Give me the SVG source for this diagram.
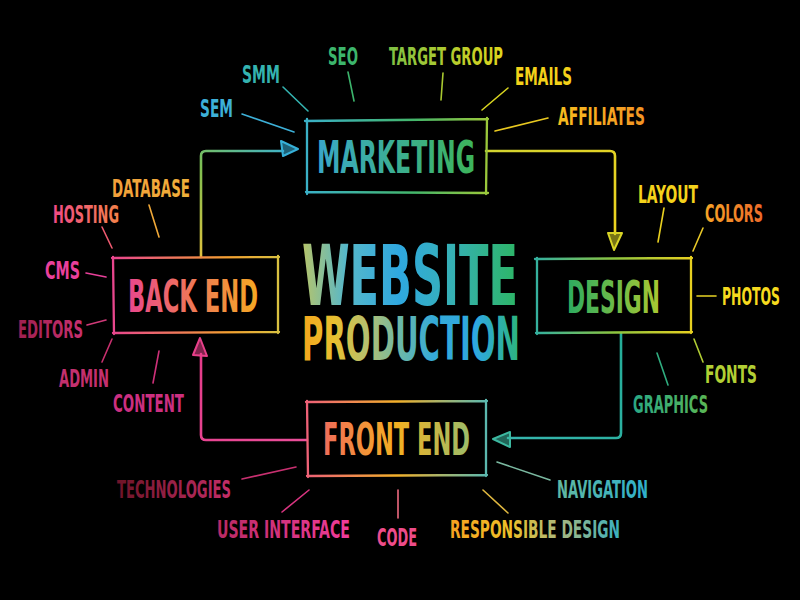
<svg xmlns="http://www.w3.org/2000/svg" width="800" height="600" viewBox="0 0 800 600">
<defs>
<style>
text{font-family:"Liberation Sans Narrow","DejaVu Sans Condensed","Liberation Sans",sans-serif;font-weight:bold;}
.lbl{font-size:13.9px;}
.big{font-size:25px;}
.box{fill:none;stroke-width:2.3;stroke-linecap:round;stroke-linejoin:round;}
.tick{stroke-width:1.6;stroke-linecap:round;fill:none;}
.conn{fill:none;stroke-width:2.6;stroke-linecap:round;stroke-linejoin:round;}
.head{stroke-width:2;stroke-linejoin:round;fill-opacity:0.55;}
</style>
<linearGradient id="gWeb" x1="0" y1="0" x2="1" y2="0">
<stop offset="0" stop-color="#b7c46a"/><stop offset="0.2" stop-color="#58b8c8"/><stop offset="0.45" stop-color="#2fa8e0"/><stop offset="0.68" stop-color="#36b0b8"/><stop offset="1" stop-color="#2db566"/>
</linearGradient>
<linearGradient id="gProd" x1="0" y1="0" x2="1" y2="0">
<stop offset="0" stop-color="#f5a61c"/><stop offset="0.15" stop-color="#e8c030"/><stop offset="0.3" stop-color="#b5c070"/><stop offset="0.45" stop-color="#6cb8a8"/><stop offset="0.6" stop-color="#35aad8"/><stop offset="0.8" stop-color="#2ea8e0"/><stop offset="1" stop-color="#2db57a"/>
</linearGradient>
<linearGradient id="gMkt" x1="0" y1="0" x2="1" y2="0"><stop offset="0" stop-color="#3aa8c8"/><stop offset="1" stop-color="#3db45a"/></linearGradient>
<linearGradient id="gMktBox" x1="0" y1="0" x2="1" y2="0"><stop offset="0" stop-color="#3ab0c8"/><stop offset="0.6" stop-color="#44b66a"/><stop offset="1" stop-color="#9cc83a"/></linearGradient>
<linearGradient id="gDes" x1="0" y1="0" x2="1" y2="0"><stop offset="0" stop-color="#2dab60"/><stop offset="1" stop-color="#a9c832"/></linearGradient>
<linearGradient id="gDesBox" x1="0" y1="0" x2="1" y2="0"><stop offset="0" stop-color="#33b0a0"/><stop offset="0.5" stop-color="#8cc440"/><stop offset="1" stop-color="#e8d020"/></linearGradient>
<linearGradient id="gBack" x1="0" y1="0" x2="1" y2="0"><stop offset="0" stop-color="#e9488c"/><stop offset="1" stop-color="#f5a823"/></linearGradient>
<linearGradient id="gBackBox" x1="0" y1="0" x2="1" y2="0"><stop offset="0" stop-color="#e8458e"/><stop offset="0.7" stop-color="#f3a030"/><stop offset="1" stop-color="#d8c040"/></linearGradient>
<linearGradient id="gFront" x1="0" y1="0" x2="1" y2="0"><stop offset="0" stop-color="#f06c5a"/><stop offset="0.5" stop-color="#f4b021"/><stop offset="1" stop-color="#9cbd6a"/></linearGradient>
<linearGradient id="gFrontBox" x1="0" y1="0" x2="1" y2="0"><stop offset="0" stop-color="#ee6078"/><stop offset="0.5" stop-color="#f3b02a"/><stop offset="1" stop-color="#5ab8b0"/></linearGradient>
<linearGradient id="gTG" x1="0" y1="0" x2="1" y2="0"><stop offset="0" stop-color="#7ec044"/><stop offset="1" stop-color="#dfd51c"/></linearGradient>
<linearGradient id="gAff" x1="0" y1="0" x2="1" y2="0"><stop offset="0" stop-color="#f7bd1e"/><stop offset="1" stop-color="#f39424"/></linearGradient>
<linearGradient id="gCol" x1="0" y1="0" x2="1" y2="0"><stop offset="0" stop-color="#f5a426"/><stop offset="1" stop-color="#ee6a2a"/></linearGradient>
<linearGradient id="gGra" x1="0" y1="0" x2="1" y2="0"><stop offset="0" stop-color="#2aa884"/><stop offset="1" stop-color="#5ab654"/></linearGradient>
<linearGradient id="gHost" x1="0" y1="0" x2="1" y2="0"><stop offset="0" stop-color="#ee4a86"/><stop offset="1" stop-color="#f2824a"/></linearGradient>
<linearGradient id="gDb" x1="0" y1="0" x2="1" y2="0"><stop offset="0" stop-color="#f3a03a"/><stop offset="1" stop-color="#eeaf3a"/></linearGradient>
<linearGradient id="gTech" x1="0" y1="0" x2="1" y2="0"><stop offset="0" stop-color="#6e1428"/><stop offset="1" stop-color="#c42e68"/></linearGradient>
<linearGradient id="gUI" x1="0" y1="0" x2="1" y2="0"><stop offset="0" stop-color="#b82a64"/><stop offset="1" stop-color="#f03c9a"/></linearGradient>
<linearGradient id="gResp" x1="0" y1="0" x2="1" y2="0"><stop offset="0" stop-color="#f6a020"/><stop offset="0.35" stop-color="#eec028"/><stop offset="0.65" stop-color="#a8b880"/><stop offset="1" stop-color="#38b0c0"/></linearGradient>
<linearGradient id="gNav" x1="0" y1="0" x2="1" y2="0"><stop offset="0" stop-color="#62b8a0"/><stop offset="1" stop-color="#2eb0cc"/></linearGradient>
<linearGradient id="gEd" x1="0" y1="0" x2="1" y2="0"><stop offset="0" stop-color="#9e2050"/><stop offset="1" stop-color="#c83070"/></linearGradient>
<linearGradient id="cBM" gradientUnits="userSpaceOnUse" x1="201" y1="257" x2="298" y2="150"><stop offset="0" stop-color="#e0c23e"/><stop offset="0.45" stop-color="#80c050"/><stop offset="1" stop-color="#36b0d8"/></linearGradient>
<linearGradient id="cMD" gradientUnits="userSpaceOnUse" x1="486" y1="151" x2="615" y2="250"><stop offset="0" stop-color="#d2d430"/><stop offset="1" stop-color="#eed21e"/></linearGradient>
<linearGradient id="cDF" gradientUnits="userSpaceOnUse" x1="621" y1="333" x2="492" y2="438"><stop offset="0" stop-color="#24ad98"/><stop offset="1" stop-color="#38b6b0"/></linearGradient>
<linearGradient id="cFB" gradientUnits="userSpaceOnUse" x1="307" y1="440" x2="200" y2="338"><stop offset="0" stop-color="#ea4f9a"/><stop offset="1" stop-color="#e43a88"/></linearGradient>
</defs>
<rect x="0" y="0" width="800" height="600" fill="#000"/>

<g id="connectors">
<path class="conn" stroke="url(#cBM)" d="M201,257 L201,156 Q201,151 206,151 L283,151"/>
<polygon class="head" fill="#36b0d8" stroke="#36b0d8" points="281,141 298,149 283,156"/>
<path class="conn" stroke="url(#cMD)" d="M486,151 L610,151 Q615,151 615,156 L615,234"/>
<polygon class="head" fill="#d8d426" stroke="#d8d426" points="608,233 622,233 614,250"/>
<path class="conn" stroke="url(#cDF)" d="M621,333 L621,433 Q621,438 616,438 L508,438"/>
<polygon class="head" fill="#3cb8a0" stroke="#3cb8a0" points="510,432 510,447 493,439"/>
<path class="conn" stroke="url(#cFB)" d="M307,440 L206,440 Q201,440 201,435 L201,354"/>
<polygon class="head" fill="#e8408a" stroke="#e8408a" points="193,355 207,356 200,338"/>
<line class="tick" stroke="#3db0d8" x1="242" y1="114" x2="294" y2="132"/>
<line class="tick" stroke="#34b3b0" x1="283" y1="87" x2="308" y2="111"/>
<line class="tick" stroke="#3cb56c" x1="348" y1="72" x2="354" y2="101"/>
<line class="tick" stroke="#a8c830" x1="443" y1="73" x2="441" y2="100"/>
<line class="tick" stroke="#d8d420" x1="508" y1="88" x2="482" y2="110"/>
<line class="tick" stroke="#e8c820" x1="548" y1="118" x2="495" y2="131"/>
<line class="tick" stroke="#e8d020" x1="664" y1="208" x2="658" y2="242"/>
<line class="tick" stroke="#e8c828" x1="703" y1="228" x2="693" y2="251"/>
<line class="tick" stroke="#e8d424" x1="697" y1="296" x2="716" y2="296"/>
<line class="tick" stroke="#b0cc34" x1="694" y1="339" x2="703" y2="362"/>
<line class="tick" stroke="#30ae80" x1="657" y1="353" x2="668" y2="385"/>
<line class="tick" stroke="#f0a838" x1="149" y1="205" x2="159" y2="237"/>
<line class="tick" stroke="#ee5a70" x1="102" y1="227" x2="112" y2="248"/>
<line class="tick" stroke="#e8409a" x1="86" y1="273" x2="106" y2="277"/>
<line class="tick" stroke="#d03a78" x1="87" y1="325" x2="106" y2="320"/>
<line class="tick" stroke="#c8306e" x1="102" y1="362" x2="112" y2="339"/>
<line class="tick" stroke="#cc3078" x1="153" y1="383" x2="159" y2="351"/>
<line class="tick" stroke="#c83070" x1="242" y1="479" x2="296" y2="467"/>
<line class="tick" stroke="#d83580" x1="282" y1="512" x2="309" y2="490"/>
<line class="tick" stroke="#ee6a80" x1="398" y1="490" x2="398" y2="518"/>
<line class="tick" stroke="#e0b840" x1="483" y1="490" x2="508" y2="513"/>
<line class="tick" stroke="#7ab8a0" x1="497" y1="462" x2="550" y2="480"/>
</g>

<g id="title">
<text x="302" y="305" font-size="42" transform="matrix(1 0 0 2 0 -305)" textLength="216" lengthAdjust="spacingAndGlyphs" fill="url(#gWeb)">WEBSITE</text>
<text x="302" y="360" font-size="30" transform="matrix(1 0 0 2 0 -360)" textLength="218" lengthAdjust="spacingAndGlyphs" fill="url(#gProd)">PRODUCTION</text>
</g>

<g id="marketing">
<path class="box" stroke="url(#gMktBox)" d="M305,121 L488,119 M487,118 L486,194 M488,193 L306,192 M307,194 L307,119"/>
<text class="big" x="317" y="173" transform="matrix(1 0 0 1.8 0 -138.4)" textLength="158" lengthAdjust="spacingAndGlyphs" fill="url(#gMkt)">MARKETING</text>
</g>
<g id="design">
<path class="box" stroke="url(#gDesBox)" d="M535,259 L692,258 M691,257 L691,333 M692,332 L536,333 M537,334 L537,258"/>
<text class="big" x="567" y="313" transform="matrix(1 0 0 1.8 0 -250.4)" textLength="93" lengthAdjust="spacingAndGlyphs" fill="url(#gDes)">DESIGN</text>
</g>
<g id="back-end">
<path class="box" stroke="url(#gBackBox)" d="M112,258 L279,257 M278,256 L278,333 M279,332 L113,333 M114,334 L113,257"/>
<text class="big" x="128" y="312" transform="matrix(1 0 0 1.8 0 -249.6)" textLength="130" lengthAdjust="spacingAndGlyphs" fill="url(#gBack)">BACK END</text>
</g>
<g id="front-end">
<path class="box" stroke="url(#gFrontBox)" d="M306,402 L487,401 M486,400 L486,476 M487,475 L307,476 M308,477 L307,401"/>
<text class="big" x="323" y="455" transform="matrix(1 0 0 1.8 0 -364)" textLength="147" lengthAdjust="spacingAndGlyphs" fill="url(#gFront)">FRONT END</text>
</g>

<g id="sem"><text class="lbl" x="200" y="117" transform="matrix(1 0 0 1.8 0 -93.6)" textLength="33" lengthAdjust="spacingAndGlyphs" fill="#3db0d8">SEM</text></g>
<g id="smm"><text class="lbl" x="242" y="83" transform="matrix(1 0 0 1.8 0 -66.4)" textLength="38" lengthAdjust="spacingAndGlyphs" fill="#34b3b0">SMM</text></g>
<g id="seo"><text class="lbl" x="328" y="65" transform="matrix(1 0 0 1.8 0 -52)" textLength="30" lengthAdjust="spacingAndGlyphs" fill="#3cb56c">SEO</text></g>
<g id="target-group"><text class="lbl" x="389" y="65" transform="matrix(1 0 0 1.8 0 -52)" textLength="114" lengthAdjust="spacingAndGlyphs" fill="url(#gTG)">TARGET GROUP</text></g>
<g id="emails"><text class="lbl" x="515" y="85" transform="matrix(1 0 0 1.8 0 -68)" textLength="57" lengthAdjust="spacingAndGlyphs" fill="#f3d11a">EMAILS</text></g>
<g id="affiliates"><text class="lbl" x="558" y="125" transform="matrix(1 0 0 1.8 0 -100)" textLength="87" lengthAdjust="spacingAndGlyphs" fill="url(#gAff)">AFFILIATES</text></g>
<g id="layout"><text class="lbl" x="638" y="203" transform="matrix(1 0 0 1.8 0 -162.4)" textLength="60" lengthAdjust="spacingAndGlyphs" fill="#f4d21b">LAYOUT</text></g>
<g id="colors"><text class="lbl" x="705" y="222" transform="matrix(1 0 0 1.8 0 -177.6)" textLength="58" lengthAdjust="spacingAndGlyphs" fill="url(#gCol)">COLORS</text></g>
<g id="photos"><text class="lbl" x="722" y="305" transform="matrix(1 0 0 1.8 0 -244)" textLength="58" lengthAdjust="spacingAndGlyphs" fill="#f6da1e">PHOTOS</text></g>
<g id="fonts"><text class="lbl" x="705" y="383" transform="matrix(1 0 0 1.8 0 -306.4)" textLength="52" lengthAdjust="spacingAndGlyphs" fill="#b2cf34">FONTS</text></g>
<g id="graphics"><text class="lbl" x="633" y="413" transform="matrix(1 0 0 1.8 0 -330.4)" textLength="75" lengthAdjust="spacingAndGlyphs" fill="url(#gGra)">GRAPHICS</text></g>
<g id="database"><text class="lbl" x="112" y="197" transform="matrix(1 0 0 1.8 0 -157.6)" textLength="78" lengthAdjust="spacingAndGlyphs" fill="url(#gDb)">DATABASE</text></g>
<g id="hosting"><text class="lbl" x="53" y="223" transform="matrix(1 0 0 1.8 0 -178.4)" textLength="66" lengthAdjust="spacingAndGlyphs" fill="url(#gHost)">HOSTING</text></g>
<g id="cms"><text class="lbl" x="45" y="279" transform="matrix(1 0 0 1.8 0 -223.2)" textLength="35" lengthAdjust="spacingAndGlyphs" fill="#e9409c">CMS</text></g>
<g id="editors"><text class="lbl" x="18" y="338" transform="matrix(1 0 0 1.8 0 -270.4)" textLength="65" lengthAdjust="spacingAndGlyphs" fill="url(#gEd)">EDITORS</text></g>
<g id="admin"><text class="lbl" x="59" y="387" transform="matrix(1 0 0 1.8 0 -309.6)" textLength="50" lengthAdjust="spacingAndGlyphs" fill="#c3306e">ADMIN</text></g>
<g id="content"><text class="lbl" x="113" y="412" transform="matrix(1 0 0 1.8 0 -329.6)" textLength="71" lengthAdjust="spacingAndGlyphs" fill="#cc2f80">CONTENT</text></g>
<g id="technologies"><text class="lbl" x="117" y="498" transform="matrix(1 0 0 1.8 0 -398.4)" textLength="114" lengthAdjust="spacingAndGlyphs" fill="url(#gTech)">TECHNOLOGIES</text></g>
<g id="user-interface"><text class="lbl" x="217" y="538" transform="matrix(1 0 0 1.8 0 -430.4)" textLength="133" lengthAdjust="spacingAndGlyphs" fill="url(#gUI)">USER INTERFACE</text></g>
<g id="code"><text class="lbl" x="377" y="546" transform="matrix(1 0 0 1.8 0 -436.8)" textLength="40" lengthAdjust="spacingAndGlyphs" fill="#ee4c8a">CODE</text></g>
<g id="responsible-design"><text class="lbl" x="450" y="538" transform="matrix(1 0 0 1.8 0 -430.4)" textLength="170" lengthAdjust="spacingAndGlyphs" fill="url(#gResp)">RESPONSIBLE DESIGN</text></g>
<g id="navigation"><text class="lbl" x="557" y="498" transform="matrix(1 0 0 1.8 0 -398.4)" textLength="91" lengthAdjust="spacingAndGlyphs" fill="url(#gNav)">NAVIGATION</text></g>
</svg>
